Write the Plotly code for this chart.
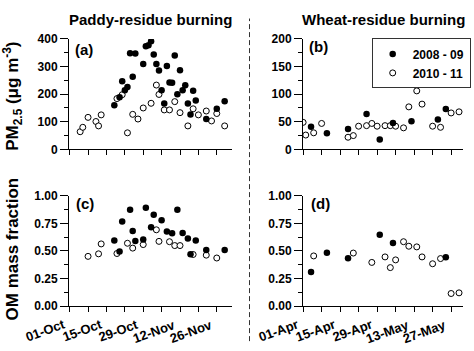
import plotly.graph_objects as go

# ---------------- data (nominal year 2000 used for a shared seasonal axis) ----------------
# Panel (a): PM2.5, paddy-residue burning (Oct-Nov)
a_0809_dates = ["10-18", "10-20", "10-21", "10-22", "10-23", "10-24", "10-25", "10-26", "10-29", "10-30",
                "10-31", "11-01", "11-02", "11-03", "11-04", "11-05", "11-06", "11-07", "11-08", "11-09",
                "11-10", "11-11", "11-12", "11-13", "11-14", "11-15", "11-16", "11-17", "11-18", "11-22",
                "11-26", "11-29"]
a_0809_pm = [160, 189, 247, 214, 226, 348, 263, 347, 309, 374,
             377, 392, 344, 309, 286, 214, 166, 302, 242, 241,
             340, 200, 287, 214, 232, 166, 126, 212, 177, 110,
             147, 174]
a_1011_dates = ["10-05", "10-06", "10-08", "10-11", "10-12", "10-13", "10-19", "10-21", "10-23", "10-25",
                "10-27", "10-29", "11-01", "11-03", "11-04", "11-06", "11-08", "11-10", "11-12", "11-15",
                "11-17", "11-19", "11-22", "11-24", "11-26", "11-29"]
a_1011_pm = [64, 80, 116, 101, 85, 125, 184, 198, 60, 127,
             110, 150, 167, 233, 199, 143, 143, 173, 133, 85,
             147, 125, 139, 103, 130, 85]

# Panel (b): PM2.5, wheat-residue burning (Apr-May)
b_0809_dates = ["04-04", "04-10", "04-18", "04-25", "04-30", "05-05", "05-08", "05-12", "05-22", "05-25"]
b_0809_pm = [41, 29, 37, 64, 18, 48, 125, 51, 54, 73]
b_1011_dates = ["04-01", "04-02", "04-05", "04-08", "04-18", "04-20", "04-22", "04-25", "04-27", "04-29",
                "05-02", "05-04", "05-06", "05-09", "05-11", "05-14", "05-16", "05-20", "05-23", "05-27",
                "05-30"]
b_1011_pm = [49, 26, 30, 47, 22, 25, 42, 43, 47, 42,
             43, 43, 42, 39, 77, 106, 82, 42, 40, 66,
             68]

# Panel (c): OM mass fraction, paddy season
c_0809_dates = ["10-18", "10-20", "10-21", "10-24", "10-25", "10-26", "10-29", "10-30", "11-01", "11-02",
                "11-05", "11-07", "11-09", "11-11", "11-13", "11-15", "11-16", "11-18", "11-22", "11-29"]
c_0809_om = [0.596, 0.494, 0.767, 0.875, 0.680, 0.590, 0.605, 0.892, 0.715, 0.828,
             0.779, 0.677, 0.660, 0.875, 0.663, 0.613, 0.471, 0.596, 0.509, 0.509]
c_1011_dates = ["10-08", "10-12", "10-13", "10-19", "10-23", "10-25", "10-29", "11-03", "11-04", "11-08",
                "11-10", "11-12", "11-17", "11-22", "11-26"]
c_1011_om = [0.451, 0.474, 0.564, 0.477, 0.570, 0.526, 0.558, 0.692, 0.587, 0.584,
             0.549, 0.549, 0.468, 0.462, 0.436]

# Panel (d): OM mass fraction, wheat season
d_0809_dates = ["04-04", "04-10", "04-18", "04-30", "05-05", "05-25"]
d_0809_om = [0.308, 0.484, 0.434, 0.648, 0.572, 0.443]
d_1011_dates = ["04-05", "04-20", "04-27", "05-02", "05-04", "05-06", "05-09", "05-11", "05-14", "05-16",
                "05-20", "05-23", "05-27", "05-30"]
d_1011_om = [0.455, 0.481, 0.396, 0.446, 0.349, 0.419, 0.584, 0.543, 0.537, 0.446,
             0.384, 0.431, 0.114, 0.120]

# x tick labels (every 14 days)
paddy_tick_dates = ["10-01", "10-15", "10-29", "11-12", "11-26"]
paddy_tick_labels = ["01-Oct", "15-Oct", "29-Oct", "12-Nov", "26-Nov"]
wheat_tick_dates = ["04-01", "04-15", "04-29", "05-13", "05-27"]
wheat_tick_labels = ["01-Apr", "15-Apr", "29-Apr", "13-May", "27-May"]

series_names = ["2008 - 09", "2010 - 11"]
titles = ["Paddy-residue burning", "Wheat-residue burning"]
panel_labels = ["(a)", "(b)", "(c)", "(d)"]

YEAR = "2000-"


def d(lst):
    return [YEAR + s for s in lst]


# ---------------- figure ----------------
W, H = 474, 351
FONT = "Liberation Sans, Arial, sans-serif"


def px(x):
    return x / W


def py(y):
    return 1 - y / H


fig = go.Figure()

filled = dict(symbol="circle", size=6.5, color="black", line=dict(width=0))
opened = dict(symbol="circle", size=6, color="white", line=dict(width=1, color="black"))

panels = [
    ("x", "y", a_0809_dates, a_0809_pm, a_1011_dates, a_1011_pm, False),
    ("x2", "y2", b_0809_dates, b_0809_pm, b_1011_dates, b_1011_pm, True),
    ("x3", "y3", c_0809_dates, c_0809_om, c_1011_dates, c_1011_om, False),
    ("x4", "y4", d_0809_dates, d_0809_om, d_1011_dates, d_1011_om, False),
]
for xa, ya, d1, v1, d2, v2, leg in panels:
    fig.add_trace(go.Scatter(x=d(d2), y=v2, mode="markers", marker=opened, xaxis=xa, yaxis=ya,
                             name=series_names[1], showlegend=leg, legendrank=2))
    fig.add_trace(go.Scatter(x=d(d1), y=v1, mode="markers", marker=filled, xaxis=xa, yaxis=ya,
                             name=series_names[0], showlegend=leg, legendrank=1))

DAY = 86400000
tickfont = dict(family=FONT, size=12, color="black", weight="bold")

common_x = dict(type="date", showgrid=False, zeroline=False, showline=True, linecolor="black",
                linewidth=1, ticks="outside", ticklen=5, tickwidth=1, tickcolor="black",
                dtick=14 * DAY, showticklabels=False,
                minor=dict(dtick=7 * DAY, ticks="outside", ticklen=5, tickcolor="black", showgrid=False))
common_y = dict(showgrid=False, zeroline=False, showline=True, linecolor="black", linewidth=1,
                ticks="outside", ticklen=8, tickwidth=1, tickcolor="black", tickfont=tickfont)

xa_dom = [px(69), px(232)]
xb_dom = [px(303), px(463)]
ytop_dom = [py(148.3), py(33.3)]
ybot_dom = [py(311.5), py(196.7)]
paddy_range = ["2000-09-30 18:00", "2000-12-01 19:00"]
wheat_range = ["2000-03-31 23:00", "2000-05-31 12:00"]

fig.update_layout(
    width=W, height=H, margin=dict(l=0, r=0, t=0, b=0),
    paper_bgcolor="white", plot_bgcolor="white",
    font=dict(family=FONT, color="black"),
    xaxis=dict(common_x, domain=xa_dom, anchor="y", range=paddy_range,
               tick0="2000-10-01", minor=dict(common_x["minor"], tick0="2000-10-01")),
    xaxis2=dict(common_x, domain=xb_dom, anchor="y2", range=wheat_range,
                tick0="2000-04-01", minor=dict(common_x["minor"], tick0="2000-04-01")),
    xaxis3=dict(common_x, domain=xa_dom, anchor="y3", range=paddy_range,
                tick0="2000-10-01", minor=dict(common_x["minor"], tick0="2000-10-01")),
    xaxis4=dict(common_x, domain=xb_dom, anchor="y4", range=wheat_range,
                tick0="2000-04-01", minor=dict(common_x["minor"], tick0="2000-04-01")),
    yaxis=dict(common_y, domain=ytop_dom, anchor="x", range=[0, 400], dtick=100, tick0=0,
               minor=dict(dtick=50, ticks="outside", ticklen=4, tickcolor="black")),
    yaxis2=dict(common_y, domain=ytop_dom, anchor="x2", range=[0, 200], dtick=50, tick0=0,
                minor=dict(dtick=25, ticks="outside", ticklen=4, tickcolor="black")),
    yaxis3=dict(common_y, domain=ybot_dom, anchor="x3", range=[0, 1], dtick=0.25, tick0=0, tickformat=".2f",
                minor=dict(dtick=0.125, ticks="outside", ticklen=4, tickcolor="black")),
    yaxis4=dict(common_y, domain=ybot_dom, anchor="x4", range=[0, 1], dtick=0.25, tick0=0, tickformat=".2f",
                minor=dict(dtick=0.125, ticks="outside", ticklen=4, tickcolor="black")),
    legend=dict(x=px(371.7), y=py(32.7), xanchor="left", yanchor="top",
                bordercolor="#333", borderwidth=1, bgcolor="white",
                font=dict(family=FONT, size=12, color="black", weight="bold"),
                traceorder="normal", tracegroupgap=0),
    showlegend=True,
)

ann = []
# section titles
ann.append(dict(text="<b>" + titles[0] + "</b>", x=px(150), y=py(12.5), xref="paper", yref="paper",
                showarrow=False, font=dict(size=15, family=FONT, color="black"), xanchor="center", yanchor="middle"))
ann.append(dict(text="<b>" + titles[1] + "</b>", x=px(383), y=py(12.5), xref="paper", yref="paper",
                showarrow=False, font=dict(size=15, family=FONT, color="black"), xanchor="center", yanchor="middle"))
# y-axis titles
ann.append(dict(text="<b>PM<sub>2.5</sub> (μg m<sup>-3</sup>)</b>", x=px(12.5), y=py(93), xref="paper",
                yref="paper", showarrow=False, textangle=-90, font=dict(size=17, family=FONT, color="black"),
                xanchor="center", yanchor="middle"))
ann.append(dict(text="<b>OM mass fraction</b>", x=px(12.5), y=py(252), xref="paper", yref="paper",
                showarrow=False, textangle=-90, font=dict(size=17, family=FONT, color="black"),
                xanchor="center", yanchor="middle"))
# panel labels
for lab, (x, y) in zip(panel_labels, [(73, 44), (307, 41), (74, 205), (309, 205)]):
    ann.append(dict(text="<b>" + lab + "</b>", x=px(x), y=py(y), xref="paper", yref="paper",
                    showarrow=False, font=dict(size=15, family=FONT, color="black"),
                    xanchor="left", yanchor="middle"))
# rotated x tick labels, right end at the tick
for xref, dates, labels in [("x3", paddy_tick_dates, paddy_tick_labels), ("x4", wheat_tick_dates, wheat_tick_labels)]:
    for dt, lab in zip(dates, labels):
        ann.append(dict(text="<b>" + lab + "</b>", x=YEAR + dt, y=py(320), xref=xref, yref="paper",
                        showarrow=False, textangle=-20, xanchor="right", yanchor="top", xshift=0,
                        font=dict(size=13, family=FONT, color="black")))
fig.update_layout(annotations=ann)

# dashed separator
fig.add_shape(type="line", xref="paper", yref="paper", x0=px(249.5), x1=px(249.5), y0=py(348), y1=py(12),
              line=dict(color="#333", width=1, dash="5px,3px"))

fig.write_html("out.html")
